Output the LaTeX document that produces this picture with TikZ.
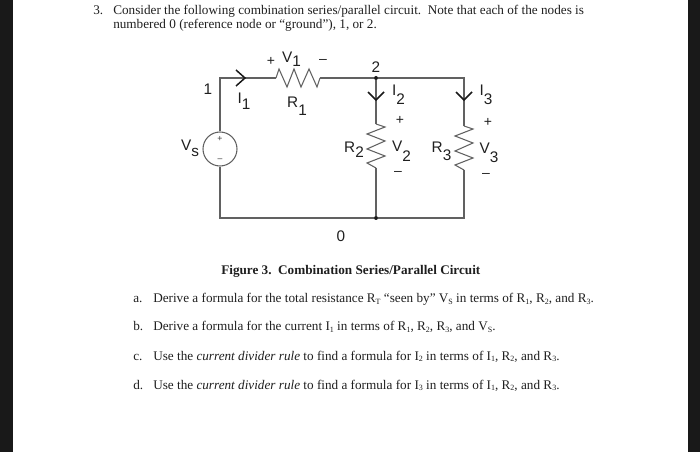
\documentclass[tikz,border=0pt]{standalone}
\usepackage{fontspec}
\setmainfont{Liberation Serif}
\newfontfamily\cktfont{Liberation Sans}
\usetikzlibrary{calc}
\tikzset{
	wire/.style={line width=0.8pt, color=black!62},
	textline/.style={anchor=base west, inner sep=0pt, font=\fontsize{9.9}{12}\selectfont, color=black!88},
	ckt/.style={inner sep=0pt, font=\cktfont\fontsize{11.5}{13}\selectfont, color=black!88},
	sgn/.style={inner sep=0pt, font=\cktfont\fontsize{10.5}{12}\selectfont, color=black!88},
	smallsgn/.style={inner sep=0pt, font=\cktfont\fontsize{6.5}{7}\selectfont, color=black!80},
	tipline/.style={line width=1.1pt, color=black!90},
	dotnode/.style={circle, fill=black!90, inner sep=0pt, minimum size=3pt}
}
\newcommand{\sbs}[1]{\raisebox{-0.3ex}{\fontsize{6}{7}\selectfont #1}}
\newcommand{\cksub}[2]{\raisebox{-#1pt}{#2}}
\begin{document}
\begin{tikzpicture}[x=0.75pt, y=-0.75pt]
	%%%%% FRAME %%%%%
	\useasboundingbox (0, 0) rectangle (700, 452);
	\fill[black!90] (0, 0) rectangle (13, 452);
	\fill[black!90] (688, 0) rectangle (700, 452);

	%%%%% CIRCUIT %%%%%
	\coordinate (tl) at (220, 78);
	\coordinate (bl) at (220, 218);
	\coordinate (tr) at (464, 78);
	\coordinate (br) at (464, 218);
	\coordinate (r1a) at (276, 78);
	\coordinate (r1b) at (320, 78);
	\coordinate (r2a) at (376, 124);
	\coordinate (r2b) at (376, 168);
	\coordinate (r3a) at (464, 126);
	\coordinate (r3b) at (464, 170);
	\node[dotnode] (n2) at (376, 78) {};
	\node[dotnode] (n0) at (376, 218) {};
	\node[circle, draw=black!62, line width=0.8pt, minimum size=25.5pt, inner sep=0pt] (vs) at (220, 149) {};

	\draw[wire] (vs.north) -- (tl) -- (r1a);
	\draw[wire] (r1b) -- (n2) -- (tr) -- (r3a);
	\draw[wire] (vs.south) -- (bl) -- (n0) -- (br) -- (r3b);
	\draw[wire] (n2) -- (r2a);
	\draw[wire] (r2b) -- (n0);

	% resistors
	\draw[wire] (r1a) -- (279, 69) -- (287, 87) -- (294, 69) -- (301, 87) -- (309, 69) -- (317, 87) -- (r1b);
	\draw[wire] (r2a) -- (385, 127) -- (367, 134) -- (385, 141) -- (367, 149) -- (385, 156) -- (367, 163) -- (r2b);
	\draw[wire] (r3a) -- (473, 129) -- (455, 136) -- (473, 143) -- (455, 151) -- (473, 158) -- (455, 165) -- (r3b);

	% arrows
	\draw[tipline] (236, 70) -- (245, 78) -- (236, 86);
	\draw[tipline] (368, 92) -- (376, 100) -- (384, 92);
	\draw[tipline] (456, 92) -- (464, 100) -- (472, 92);

	% labels
	\node[ckt] (n1lab) at (208, 89) {1};
	\node[ckt] (n2lab) at (376, 67) {2};
	\node[ckt] (n0lab) at (341, 236) {0};
	\node[ckt] (vslab) at (190, 148.5) {V\cksub{4.5}{s}};
	\node[ckt] (i1lab) at (244, 101) {I\cksub{4.5}{1}};
	\node[ckt] (r1lab) at (297, 106) {R\cksub{6}{1}};
	\node[ckt] (v1lab) at (291.5, 59.5) {V\cksub{3}{1}};
	\node[ckt] (i2lab) at (398.5, 95) {I\cksub{6.75}{2}};
	\node[ckt] (i3lab) at (486, 95) {I\cksub{6.75}{3}};
	\node[ckt] (r2lab) at (354, 150) {R\cksub{3.75}{2}};
	\node[ckt] (r3lab) at (441.5, 151) {R\cksub{6}{3}};
	\node[ckt] (v2lab) at (401.5, 151) {V\cksub{7.5}{2}};
	\node[ckt] (v3lab) at (489, 153) {V\cksub{6.75}{3}};
	\node[sgn] (v1p) at (271, 61) {+};
	\node[sgn] (v1m) at (323, 61) {–};
	\node[sgn] (v2p) at (400, 120) {+};
	\node[sgn] (v2m) at (398, 173) {–};
	\node[sgn] (v3p) at (488, 122) {+};
	\node[sgn] (v3m) at (486, 175) {–};
	\node[smallsgn] (vsp) at (220, 139) {+};
	\node[smallsgn] (vsm) at (220, 160) {–};

	%%%%% TEXT %%%%%
	\node[textline] (q3) at (93, 15) {3.};
	\node[textline] (l1) at (113, 15) {Consider the following combination series/parallel circuit.\ \ Note that each of the nodes is};
	\node[textline] (l2) at (113, 29) {numbered 0 (reference node or “ground”), 1, or 2.};
	\node[textline, font=\bfseries\fontsize{9.9}{12}\selectfont] (cap) at (221, 275) {Figure 3.\ \ Combination Series/Parallel Circuit};
	\node[textline] (qa) at (133, 303) {a.};
	\node[textline] (ta) at (153, 303) {Derive a formula for the total resistance R\sbs{T} “seen by” V\sbs{S} in terms of R\sbs{1}, R\sbs{2}, and R\sbs{3}.};
	\node[textline] (qb) at (133, 331) {b.};
	\node[textline] (tb) at (153, 331) {Derive a formula for the current I\sbs{1} in terms of R\sbs{1}, R\sbs{2}, R\sbs{3}, and V\sbs{S}.};
	\node[textline] (qc) at (133, 360) {c.};
	\node[textline] (tc) at (153, 360) {Use the \emph{current divider rule} to find a formula for I\sbs{2} in terms of I\sbs{1}, R\sbs{2}, and R\sbs{3}.};
	\node[textline] (qd) at (133, 389) {d.};
	\node[textline] (td) at (153, 389) {Use the \emph{current divider rule} to find a formula for I\sbs{3} in terms of I\sbs{1}, R\sbs{2}, and R\sbs{3}.};
\end{tikzpicture}
\end{document}
